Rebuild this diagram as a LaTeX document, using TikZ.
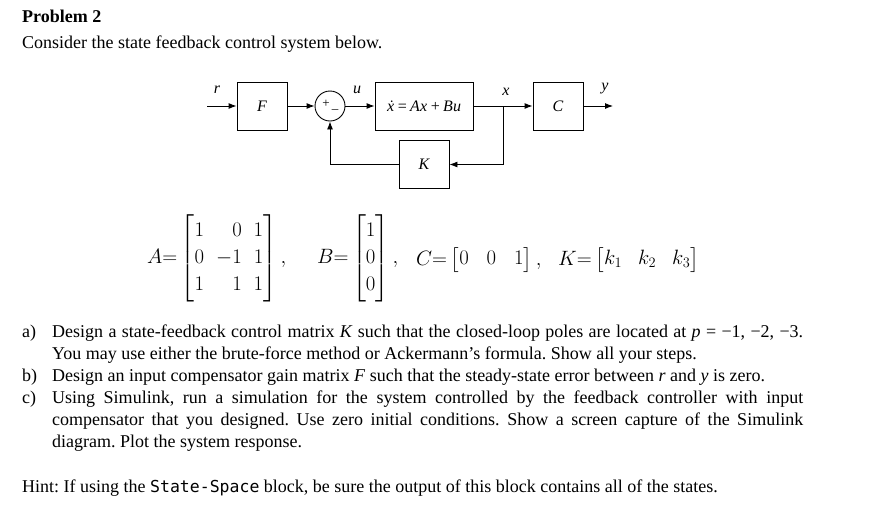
\documentclass[tikz,border=0pt]{standalone}
\usepackage{amsmath}
\usepackage{fontspec}
\setmainfont{Liberation Serif}
\setmonofont{DejaVu Sans Mono}
\usetikzlibrary{arrows.meta}
\frenchspacing
\begin{document}
\begin{tikzpicture}[x=1pt,y=-1pt,
  blk/.style={draw,line width=0.9pt,minimum width=50pt,minimum height=48pt,inner sep=0pt,font=\fontsize{16}{16}\selectfont\itshape},
  arr/.style={line width=0.9pt,-{Latex[length=8pt,width=6pt]}},
  lab/.style={font=\fontsize{16}{16}\selectfont\itshape},
  txt/.style={anchor=north west,inner sep=0pt,font=\fontsize{18}{20}\selectfont},
  mat/.style={inner sep=0pt,anchor=west,font=\fontsize{21}{24}\selectfont},
  jl/.style={txt,text width=751pt,align=justify}]
\useasboundingbox (0,0) rectangle (877,517);
% block diagram
\node[blk] (F) at (262,106) {F};
\node[draw,circle,line width=0.9pt,minimum size=30pt,inner sep=0pt] (S) at (330,106) {};
\node[font=\fontsize{13}{13}\selectfont] at (326,104) {+};
\node[font=\fontsize{13}{13}\selectfont] at (335,109) {\_};
\node[blk,minimum width=98pt] (P) at (424,106) {\upshape\.{\itshape x}\,=\,\itshape Ax\,+\,Bu};
\node[blk] (C) at (558,106) {C};
\node[blk] (K) at (424,164.5) {K};
\coordinate (in) at (207,106);
\coordinate (out) at (613,106);
\coordinate (br) at (503,106);
\draw[arr] (in) -- (F);
\draw[arr] (F) -- (S);
\draw[arr] (S) -- (P);
\draw[arr] (P) -- (C);
\draw[arr] (C) -- (out);
\draw[arr] (br) |- (K);
\draw[arr] (K) -| (S);
\node[lab] at (217,90) {r};
\node[lab] at (357,90) {u};
\node[lab] at (506,92) {x};
\node[lab] at (605,89) {y};
% matrices
\node[mat] (MA) at (147,258) {\renewcommand{\arraystretch}{1.12}\setlength{\arraycolsep}{6pt}$A{=}\begin{bmatrix}1&\phantom{-}0&1\\0&-1&1\\1&\phantom{-}1&1\end{bmatrix},$};
\node[mat] (MB) at (317,258) {\renewcommand{\arraystretch}{1.12}\setlength{\arraycolsep}{2pt}$B{=}\begin{bmatrix}1\\0\\0\end{bmatrix},$};
\node[mat] (MC) at (416,260) {\setlength{\arraycolsep}{9pt}$C{=}\begin{bmatrix}0&0&1\end{bmatrix},$};
\node[mat] (MK) at (558,260) {\setlength{\arraycolsep}{8pt}$K{=}\begin{bmatrix}k_1&k_2&k_3\end{bmatrix}$};
% text
\node[txt] (t1) at (22,10) {\textbf{Problem 2}};
\node[txt] (t2) at (22,36) {Consider the state feedback control system below.};
\node[txt] (a) at (22,325) {a)};
\node[jl] (a1) at (52,325) {Design a state-feedback control matrix \textit{K} such that the closed-loop poles are located at \textit{p} = −1, −2, −3.\parfillskip=0pt\par};
\node[txt] (a2) at (52,347) {You may use either the brute-force method or Ackermann’s formula. Show all your steps.};
\node[txt] (b) at (22,369) {b)};
\node[txt] (b1) at (52,369) {Design an input compensator gain matrix \textit{F} such that the steady-state error between \textit{r} and \textit{y} is zero.};
\node[txt] (c) at (22,391) {c)};
\node[jl] (c1) at (52,391) {Using Simulink, run a simulation for the system controlled by the feedback controller with input\parfillskip=0pt\par};
\node[jl] (c2) at (52,413) {compensator that you designed. Use zero initial conditions. Show a screen capture of the Simulink\parfillskip=0pt\par};
\node[txt] (c3) at (52,435) {diagram. Plot the system response.};
\node[txt] (h) at (22,480) {Hint: If using the {\ttfamily\fontsize{16.5}{20}\selectfont State-Space} block, be sure the output of this block contains all of the states.};
\end{tikzpicture}
\end{document}
